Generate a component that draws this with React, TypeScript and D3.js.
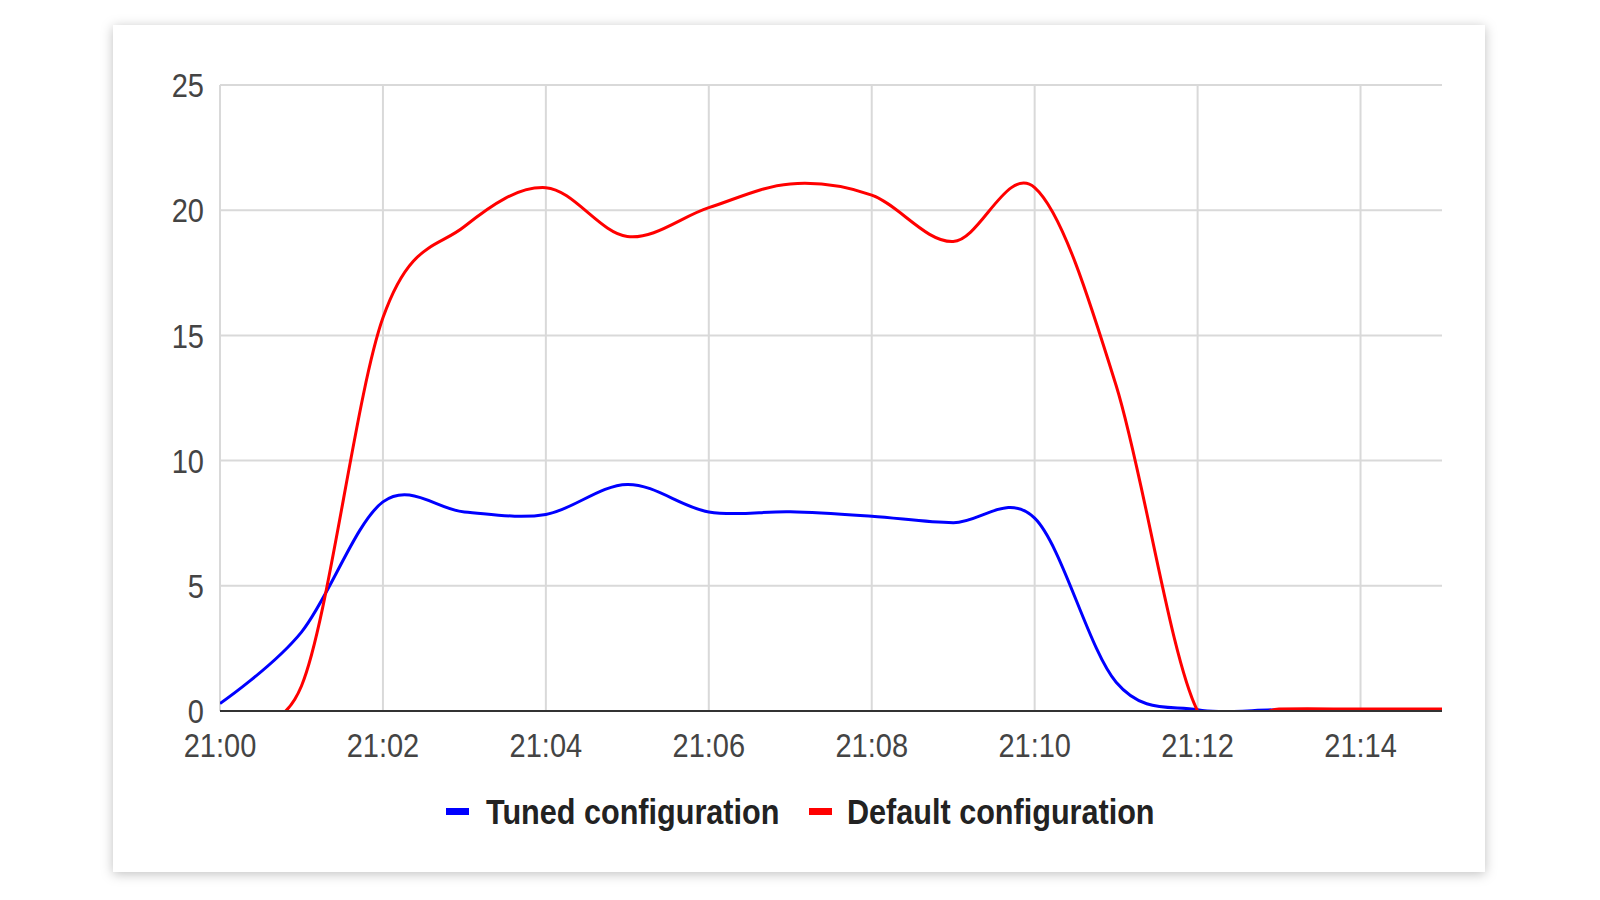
import React from 'react';
import * as d3 from 'd3';

// one sample per minute, 21:00 … 21:15
const sampleMinutes = [0, 1, 2, 3, 4, 5, 6, 7, 8, 9, 10, 11, 12, 13, 14, 15];
const tunedValues = [0.3, 3.15, 8.35, 7.95, 7.85, 9.05, 7.95, 7.96, 7.78, 7.52, 7.7, 1.15, 0.05, 0.05, 0.05, 0.05];
const defaultValues = [0, 1.0, 15.7, 19.35, 20.9, 18.95, 20.1, 21.05, 20.6, 18.75, 20.9, 13.0, 0, 0.08, 0.08, 0.08];

const yTicks = [0, 5, 10, 15, 20, 25];
const xTickMinutes = [0, 2, 4, 6, 8, 10, 12, 14];

const seriesNames = ['Tuned configuration', 'Default configuration'];
const seriesColors = ['#0000ff', '#ff0000'];

const baseTime = new Date(2020, 0, 1, 21, 0, 0);
const toDate = (m: number) => new Date(baseTime.getTime() + m * 60000);

export default function App() {
  const width = 1600;
  const height = 900;
  const plot = { left: 220, right: 1442, top: 85, bottom: 711 };
  const stretch = 1.16;

  const x = d3.scaleTime()
    .domain([toDate(0), toDate(15)])
    .range([plot.left, plot.right]);
  const y = d3.scaleLinear()
    .domain([0, 25])
    .range([plot.bottom, plot.top]);
  const fmt = d3.timeFormat('%H:%M');

  // uniform Catmull-Rom, close to the "function" curve of the original
  const line = d3.line<[number, number]>()
    .x(d => x(toDate(d[0])))
    .y(d => y(d[1]))
    .curve(d3.curveCatmullRom.alpha(0));

  const tuned = sampleMinutes.map((m, i) => [m, tunedValues[i]] as [number, number]);
  const dflt = sampleMinutes.map((m, i) => [m, defaultValues[i]] as [number, number]);

  const tickFont = 'Arial, "Liberation Sans", sans-serif';

  // legend layout
  const legendY = 811;
  const legendItems = [
    { marker: 446, text: 486 },
    { marker: 809, text: 847 },
  ];

  return (
    <svg width={width} height={height} style={{ position: 'absolute', left: 0, top: 0, background: '#fff' }}>
      <defs>
        <filter id="shadow" x="-5%" y="-5%" width="110%" height="110%">
          <feDropShadow dx="0" dy="2" stdDeviation="6" floodColor="#000" floodOpacity="0.25" />
        </filter>
        <clipPath id="plotClip">
          <rect x={plot.left} y={plot.top - 2} width={plot.right - plot.left} height={plot.bottom - plot.top + 1} />
        </clipPath>
      </defs>

      <rect x={113} y={25} width={1372} height={847} fill="#fff" filter="url(#shadow)" />

      {/* horizontal gridlines */}
      {yTicks.filter(t => t > 0).map(t => (
        <line key={'h' + t} x1={plot.left} x2={plot.right} y1={y(t)} y2={y(t)} stroke="#d9d9d9" strokeWidth={2} />
      ))}
      {/* vertical gridlines */}
      {xTickMinutes.map(m => (
        <line key={'v' + m} x1={x(toDate(m))} x2={x(toDate(m))} y1={plot.top} y2={plot.bottom} stroke="#d9d9d9" strokeWidth={2} />
      ))}

      {/* y tick labels */}
      {yTicks.map(t => (
        <text key={'yl' + t} transform={`translate(${plot.left - 16},${y(t)}) scale(1,${stretch})`}
          textAnchor="end" dy="0.36em" fontFamily={tickFont} fontSize={29} fill="#444">{t}</text>
      ))}
      {/* x tick labels */}
      {xTickMinutes.map(m => (
        <text key={'xl' + m} transform={`translate(${x(toDate(m))},${plot.bottom + 34}) scale(1,${stretch})`}
          textAnchor="middle" dy="0.36em" fontFamily={tickFont} fontSize={29} fill="#444">{fmt(toDate(m))}</text>
      ))}

      <g clipPath="url(#plotClip)">
        <path d={line(tuned) || ''} fill="none" stroke={seriesColors[0]} strokeWidth={3} />
        <path d={line(dflt) || ''} fill="none" stroke={seriesColors[1]} strokeWidth={3} />
      </g>

      {/* baseline */}
      <line x1={plot.left} x2={plot.right} y1={y(0)} y2={y(0)} stroke="#333" strokeWidth={2} />

      {/* legend */}
      {legendItems.map((it, i) => (
        <g key={'lg' + i}>
          <rect x={it.marker} y={legendY - 3} width={23} height={7} fill={seriesColors[i]} />
          <text transform={`translate(${it.text},${legendY}) scale(1,1.14)`} dy="0.36em"
            fontFamily={tickFont} fontSize={30.6} fontWeight="bold" fill="#222">{seriesNames[i]}</text>
        </g>
      ))}
    </svg>
  );
}
